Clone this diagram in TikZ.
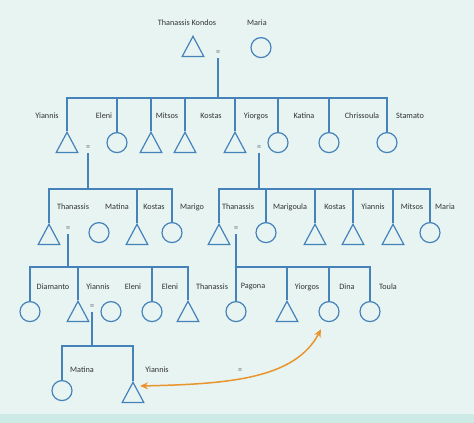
\documentclass[tikz,border=0pt]{standalone}
\usepackage{fontspec}
\setmainfont{Carlito}
\usepackage{tikz}
\usetikzlibrary{arrows.meta,shapes.geometric}
\definecolor{kinline}{HTML}{4682BA}
\definecolor{kinback}{HTML}{E7F4F2}
\definecolor{kinband}{HTML}{CDEAE6}
\definecolor{kinarrow}{HTML}{E8952E}
\definecolor{kintext}{HTML}{333333}
\definecolor{kinwed}{HTML}{7A8585}
\tikzset{
  male/.style={regular polygon, regular polygon sides=3, draw=kinline, line width=1.2pt,
    minimum size=25pt, inner sep=0pt, yscale=1.08, anchor=north},
  female/.style={circle, draw=kinline, line width=1.2pt, minimum size=20pt, inner sep=0pt, anchor=north},
  who/.style={text=kintext, font=\fontsize{8.2}{9}\selectfont, inner sep=1pt},
  wed/.style={text=kinwed, font=\fontsize{8}{8}\selectfont\bfseries, inner sep=1pt},
  link/.style={draw=kinline, line width=1.2pt},
}

\begin{document}
\begin{tikzpicture}[x=1pt, y=-1pt]
  % background and bottom band
  \fill[kinback] (0,0) rectangle (474,423);
  \fill[kinband] (0,414) rectangle (474,423);

  % generation 0
  \node[male] (tk) at (193,35) {};
  \node[female] (mr0) at (261,37) {};
  \node[wed] (m0) at (218,53) {=};
  \coordinate (b1) at (218,98);

  % generation 1
  \node[male] (yi1) at (67,131) {};
  \node[female] (el1) at (117,132) {};
  \node[male] (mi1) at (151,131) {};
  \node[male] (ko1) at (185,131) {};
  \node[male] (yo1) at (235,131) {};
  \node[female] (ka1) at (278,132) {};
  \node[female] (ch1) at (329,132) {};
  \node[female] (st1) at (387,132) {};
  \node[wed] (m1) at (88,148) {=};
  \node[wed] (m2) at (259,148) {=};
  \coordinate (b2) at (88,189);
  \coordinate (b3) at (259,189);

  % generation 2
  \node[male] (th2) at (49,223) {};
  \node[female] (mt2) at (99,222) {};
  \node[male] (ko2) at (137,223) {};
  \node[female] (mg2) at (172,222) {};
  \node[male] (th3) at (219,223) {};
  \node[female] (mr3) at (266,222) {};
  \node[male] (ko3) at (315,223) {};
  \node[male] (yi3) at (353,223) {};
  \node[male] (mi3) at (393,223) {};
  \node[female] (ma3) at (430,222) {};
  \node[wed] (m3) at (68,229) {=};
  \node[wed] (m4) at (236,229) {=};
  \coordinate (b4) at (68,267);
  \coordinate (b5) at (236,267);

  % generation 3
  \node[female] (di4) at (30,301) {};
  \node[male] (yi4) at (78,300) {};
  \node[female] (el4) at (111,301) {};
  \node[female] (el5) at (152,301) {};
  \node[male] (th4) at (188,300) {};
  \node[female] (pa4) at (236,301) {};
  \node[male] (yo4) at (287,300) {};
  \node[female] (dn4) at (329,301) {};
  \node[female] (to4) at (370,301) {};
  \node[wed] (m5) at (92,307) {=};
  \coordinate (b6) at (92,346);

  % generation 4
  \node[female] (ma5) at (62,380) {};
  \node[male] (yi5) at (133,381) {};

  % names
  \foreach \t/\x/\y [count=\i] in {Thanassis Kondos/187/23, Maria/257/23,
      Yiannis/47/116, Eleni/104/116, Mitsos/167/116, Kostas/211/116,
      Yiorgos/256/116, Katina/304/116, Chrissoula/362/116, Stamato/410/116,
      Thanassis/73/207, Matina/117/207, Kostas/154/207, Marigo/192/207,
      Thanassis/238/207, Marigoula/290/207, Kostas/335/207, Yiannis/373/207,
      Mitsos/412/207, Maria/445/207,
      Diamanto/53/287, Yiannis/98/287, Eleni/133/287, Eleni/170/287,
      Thanassis/212/287, Pagona/253/287, Yiorgos/307/287, Dina/347/287,
      Toula/388/287, Matina/82/370, Yiannis/157/370}
    \node[who] (who\i) at (\x,\y) {\t};

  % descent lines
  \draw[link, shorten <=2pt] (m0.south) -- (b1);
  \draw[link] (yi1.north) |- (b1) -| (st1.north);
  \foreach \c in {el1,mi1,ko1,yo1,ka1,ch1}
    \draw[link] (\c.north) -- (\c |- b1);

  \draw[link, shorten <=2pt] (m1.south) -- (b2);
  \draw[link] (th2.north) |- (b2) -| (mg2.north);
  \draw[link] (ko2.north) -- (ko2 |- b2);

  \draw[link, shorten <=2pt] (m2.south) -- (b3);
  \draw[link] (th3.north) |- (b3) -| (ma3.north);
  \foreach \c in {mr3,ko3,yi3,mi3}
    \draw[link] (\c.north) -- (\c |- b3);

  \draw[link, shorten <=2pt] (m3.south) -- (b4);
  \draw[link] (di4.north) |- (b4) -| (th4.north);
  \foreach \c in {yi4,el5}
    \draw[link] (\c.north) -- (\c |- b4);

  \draw[link, shorten <=2pt] (m4.south) -- (b5);
  \draw[link] (pa4.north) |- (b5) -| (to4.north);
  \foreach \c in {yo4,dn4}
    \draw[link] (\c.north) -- (\c |- b5);

  \draw[link, shorten <=2pt] (m5.south) -- (b6);
  \draw[link] (ma5.north) |- (b6) -| (yi5.north);

  % marriage across the tree
  \draw[kinarrow, line width=1.5pt, {Stealth[length=8pt,width=7pt]}-{Stealth[length=8pt,width=7pt]}]
    ([shift={(7,5)}]yi5.north) .. controls +(88,-2) and +(-26,50) .. ([shift={(-8,7)}]dn4.south);
  \node[wed] (m6) at (240,371) {=};
\end{tikzpicture}
\end{document}
